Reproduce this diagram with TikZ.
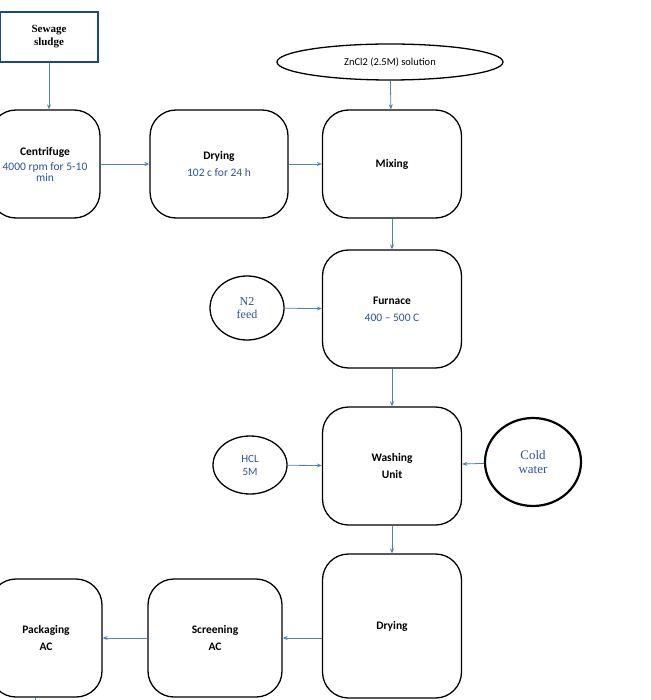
\documentclass[tikz,border=0pt]{standalone}
\usepackage{fontspec}
\setmainfont{Carlito}
\newfontfamily\serifx{Liberation Serif}
\usetikzlibrary{shapes.geometric,arrows.meta}
\definecolor{bl}{HTML}{4F81BD}
\definecolor{tb}{HTML}{1F497D}
\definecolor{tx}{HTML}{2E5597}
\begin{document}
\begin{tikzpicture}[x=1pt,y=-1pt,
 box/.style={draw,line width=1.3pt,rounded corners=26pt,align=center,font=\fontsize{11.5}{17}\selectfont},
 circ/.style={draw,line width=1.3pt,ellipse,align=center},
 arr/.style={-{Stealth[length=5pt,width=4pt]},bl,line width=0.8pt}]
\clip (0,0) rectangle (650,700);
\fill[white] (0,0) rectangle (650,700);
\node[draw=tb,line width=1.8pt,minimum width=98pt,minimum height=50pt,align=center,font=\serifx\bfseries\fontsize{11}{13}\selectfont] (ss) at (49,37) {Sewage\\sludge};
\node[box,minimum width=110pt,minimum height=108pt] (cen) at (45,164) {\textbf{Centrifuge}\\[-2pt]\color{tx}4000 rpm for 5-10\\[-6pt]\color{tx}min};
\node[box,minimum width=138pt,minimum height=108pt] (dr1) at (219,164) {\textbf{Drying}\\\color{tx}102 c for 24 h};
\node[box,minimum width=139pt,minimum height=108pt] (mix) at (392,164) {\textbf{Mixing}};
\node[circ,minimum width=226pt,minimum height=36pt,font=\fontsize{10.5}{12}\selectfont] (zn) at (390,62) {ZnCl2 (2.5M) solution};
\node[box,minimum width=139pt,minimum height=118pt] (fur) at (392,309) {\textbf{Furnace}\\\color{tx}400 -- 500 C};
\node[circ,minimum width=74pt,minimum height=64pt,text=tx,font=\serifx\fontsize{12}{13}\selectfont] (n2) at (247,308) {N2\\feed};
\node[box,minimum width=139pt,minimum height=118pt] (wash) at (392,466) {\textbf{Washing}\\\textbf{Unit}};
\node[circ,minimum width=74pt,minimum height=58pt,text=tx,font=\fontsize{11}{13}\selectfont] (hcl) at (250,465) {HCL\\5M};
\node[circ,line width=2.2pt,minimum width=96pt,minimum height=88pt,text=tx,font=\serifx\fontsize{13}{14}\selectfont] (cw) at (533,462) {Cold\\water};
\node[box,minimum width=139pt,minimum height=144pt] (dr2) at (392,626) {\textbf{Drying}};
\node[box,minimum width=134pt,minimum height=118pt] (scr) at (215,638) {\textbf{Screening}\\\textbf{AC}};
\node[box,minimum width=112pt,minimum height=118pt] (pk) at (46,638) {\textbf{Packaging}\\\textbf{AC}};
\coordinate (out) at (35,710);
\draw[arr] (ss) -- (ss|-cen.north);
\draw[arr] (cen) -- (dr1);
\draw[arr] (dr1) -- (mix);
\draw[arr] (zn) -- (mix);
\draw[arr] (mix) -- (fur);
\draw[arr] (n2) -- (fur);
\draw[arr] (fur) -- (wash);
\draw[arr] (hcl) -- (wash);
\draw[arr] (cw) -- (wash);
\draw[arr] (wash) -- (dr2);
\draw[arr] (dr2.west|-scr.east) -- (scr.east);
\draw[arr] (scr) -- (pk);
\draw[arr] (pk.south-|out) -- (out);
\end{tikzpicture}
\end{document}
